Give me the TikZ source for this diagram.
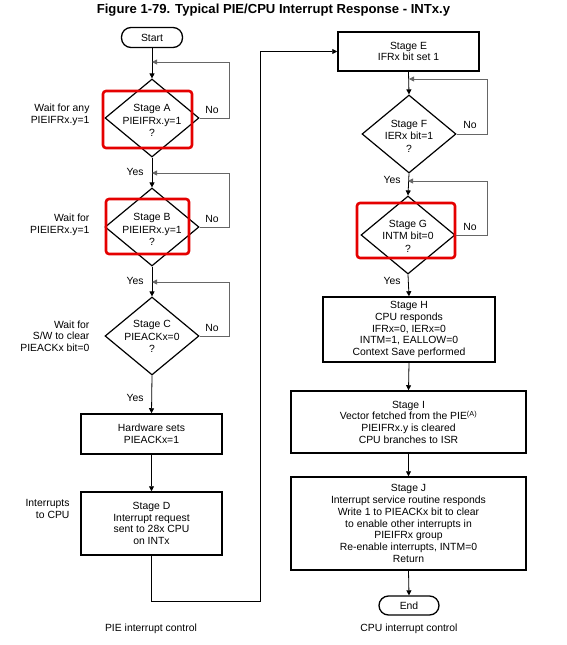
\documentclass[tikz,border=0pt]{standalone}
\usepackage{fontspec}
\setmainfont{Liberation Sans}
\usetikzlibrary{shapes.geometric,arrows.meta}
\begin{document}
\begin{tikzpicture}[x=1pt,y=-1pt,
  every node/.style={font=\fontsize{10.4}{11.7}\selectfont, text=black},
  box/.style={draw, line width=1.5pt, minimum width=#1, inner sep=0pt, align=center},
  term/.style={draw, line width=1.3pt, rounded corners=9.5pt, minimum width=61pt, minimum height=20pt, inner sep=0pt},
  dia/.style={draw, diamond, line width=1.2pt, minimum width=94pt, minimum height=78pt, inner sep=0pt},
  diatext/.style={align=center, font=\fontsize{10.4}{12.5}\selectfont},
  lab/.style={align=right, anchor=east},
  arr/.style={line width=0.8pt, -{Triangle[length=5pt,width=5pt]}},
  loopline/.style={draw=black!60, line width=0.8pt, -{Triangle[length=5pt,width=5pt]}},
  hl/.style={draw=red!90!black, line width=2.6pt, rounded corners=3pt}
]
\useasboundingbox (0,0) rectangle (566,645);
\node[font=\bfseries\fontsize{13.1}{15}\selectfont] (title) at (273.5,10) {Figure 1-79. Typical PIE/CPU Interrupt Response - INTx.y};

% left column
\node[term] (start) at (152,37.5) {Start};
\node[dia] (A) at (152,118) {};
\node[diatext] (At) at (152,120.5) {Stage A\\PIEIFRx.y=1\\?};
\node[dia] (B) at (152,227) {};
\node[diatext] (Bt) at (152,229.5) {Stage B\\PIEIERx.y=1\\?};
\node[dia] (C) at (152,336) {};
\node[diatext] (Ct) at (152,336.5) {Stage C\\PIEACKx=0\\?};
\node[box=141pt, minimum height=40pt] (hw) at (151.5,434) {Hardware sets\\PIEACKx=1};
\node[box=141pt, minimum height=63pt] (D) at (151.5,523.5) {Stage D\\Interrupt request\\sent to 28x CPU\\on INTx};

% right column
\node[box=141pt, minimum height=39pt] (E) at (408.5,51.5) {Stage E\\IFRx bit set 1};
\node[dia] (F) at (409,134) {};
\node[diatext] (Ft) at (409,136) {Stage F\\IERx bit=1\\?};
\node[dia] (G) at (408,235) {};
\node[diatext] (Gt) at (408,236) {Stage G\\INTM bit=0\\?};
\node[box=172pt, minimum height=65pt] (H) at (409,329.5) {Stage H\\CPU responds\\IFRx=0, IERx=0\\INTM=1, EALLOW=0\\Context Save performed};
\node[box=235pt, minimum height=62pt] (I) at (408.5,422) {Stage I\\Vector fetched from the PIE\textsuperscript{(A)}\\PIEIFRx.y is cleared\\CPU branches to ISR};
\node[box=235pt, minimum height=93pt] (J) at (408.5,523.5) {Stage J\\Interrupt service routine responds\\Write 1 to PIEACKx bit to clear\\to enable other interrupts in\\PIEIFRx group\\Re-enable interrupts, INTM=0\\Return};
\node[term, minimum width=60pt, minimum height=19pt] (end) at (409,605.5) {End};

\coordinate (ja) at (152,62);
\coordinate (jb) at (152,173);
\coordinate (jc) at (152,282);
\coordinate (c1) at (260,601);
\coordinate (jf) at (409,79);
\coordinate (jg) at (408,181);

\draw[hl] (103,91) rectangle (192,148);
\draw[hl] (106,199) rectangle (189,254);
\draw[hl] (357,203) rectangle (455,258);

\draw[arr] (start) -- (A.north);
\draw[loopline] (A.east) -- ++(30,0) |- (ja);
\draw[arr] (A.south) -- (B.north);
\draw[loopline] (B.east) -- ++(30,0) |- (jb);
\draw[arr] (B.south) -- (C.north);
\draw[loopline] (C.east) -- ++(30,0) |- (jc);
\draw[arr] (C.south) -- (hw.north);
\draw[arr] (hw.south) -- (D.north);
\draw[arr] (D.south) |- (c1) |- (E.west);

\draw[arr] (E.south) -- (F.north);
\draw[loopline] (F.east) -- ++(31,0) |- (jf);
\draw[arr] (F.south) -- (G.north);
\draw[loopline] (G.east) -- ++(32,0) |- (jg);
\draw[arr] (G.south) -- (H.north);
\draw[arr] (H.south) -- (I.north);
\draw[arr] (I.south) -- (J.north);
\draw[arr] (J.south) -- (end.north);

\node (noA) at (212,110) {No};
\node (noB) at (212,219) {No};
\node (noC) at (212,328) {No};
\node (yesB) at (135,172) {Yes};
\node (yesC) at (135,281) {Yes};
\node (yesD) at (135,398) {Yes};
\node (noF) at (470,125) {No};
\node (noG) at (470,227) {No};
\node (yesF) at (392,180) {Yes};
\node (yesG) at (392,281) {Yes};

\node[lab] (lA) at (93,115) {Wait for any\\PIEIFRx.y=1};
\node[lab] (lB) at (93,225) {Wait for\\PIEIERx.y=1};
\node[lab] (lC) at (93,336) {Wait for\\S/W to clear\\PIEACKx bit=0};
\node[lab] (lD) at (73,509) {Interrupts\\to CPU};
\node (pie) at (151,629) {PIE interrupt control};
\node (cpu) at (409,629) {CPU interrupt control};
\end{tikzpicture}
\end{document}
